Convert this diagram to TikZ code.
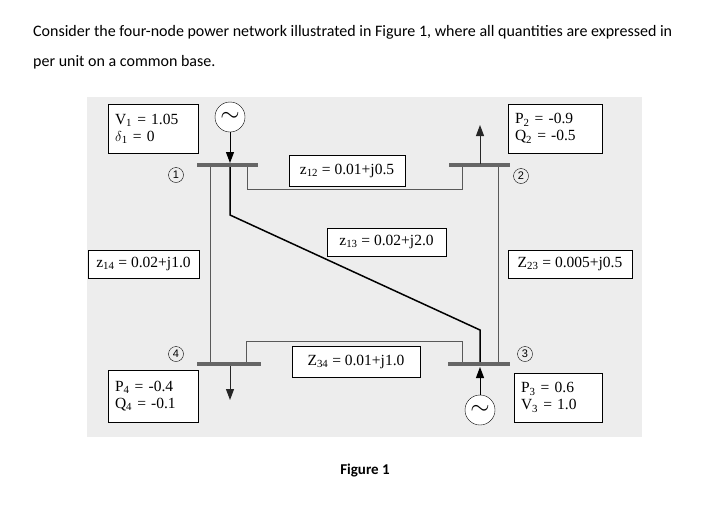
\documentclass[tikz,border=0pt]{standalone}
\usepackage{fontspec}
\setmainfont{Liberation Serif}
\newfontfamily\calib{Carlito}
\newfontfamily\arial{Liberation Sans}
\usetikzlibrary{arrows.meta}
\tikzset{
  lbl/.style={draw, fill=white, font=\fontsize{15.5}{17}\selectfont, inner sep=0pt, align=left},
  bar/.style={line width=3.5pt, draw=gray!80!black},
  wire/.style={draw=gray!70!black, line width=1pt},
  num/.style={circle, draw, minimum size=15pt, inner sep=0pt, font=\arial\fontsize{11}{11}\selectfont},
  gen/.style={circle, draw, fill=white, minimum size=30pt, inner sep=0pt, font=\fontsize{24}{24}\selectfont},
  flow/.style={-{Triangle[length=11pt,width=8pt]}, line width=1pt},
}
\newcommand{\sub}[1]{\textsubscript{#1}}
\begin{document}
\begin{tikzpicture}[x=1pt,y=-1pt]
  \useasboundingbox[fill=white] (0,0) rectangle (708,509);
  \node[anchor=west, inner sep=0pt, font=\calib\fontsize{16}{18}\selectfont] (txta) at (33,32) {Consider the four-node power network illustrated in Figure 1, where all quantities are expressed in};
  \node[anchor=west, inner sep=0pt, font=\calib\fontsize{16}{18}\selectfont] (txtb) at (33,62) {per unit on a common base.};
  \fill[gray!14] (87,97) rectangle (642,437);

  % bus bars
  \coordinate (b1l) at (197,165); \coordinate (b1r) at (258,165);
  \coordinate (b2l) at (449,165); \coordinate (b2r) at (510,165);
  \coordinate (b3l) at (448,364); \coordinate (b3r) at (510,364);
  \coordinate (b4l) at (197,364); \coordinate (b4r) at (261,364);

  % lines
  \draw[wire] (210,165) -- (210,364);
  \draw[wire] (247,165) -- (247,189) -- (462,189) -- (462,165);
  \draw[wire] (498,165) -- (498,364);
  \draw[wire] (246,364) -- (246,341) -- (462,341) -- (462,364);
  \draw[line width=1.5pt] (230,165) -- (230,215) -- (480,330) -- (480,364);

  \draw[bar] (b1l) -- (b1r);
  \draw[bar] (b2l) -- (b2r);
  \draw[bar] (b3l) -- (b3r);
  \draw[bar] (b4l) -- (b4r);

  % generators and loads
  \node[gen] (g1) at (230,117) {$\sim$};
  \node[gen] (g3) at (480,410) {$\sim$};
  \coordinate (t1) at (230,163);
  \coordinate (t3) at (480,367);
  \draw[flow] (g1) -- (t1);
  \draw[flow] (g3) -- (t3);
  \coordinate (l2a) at (480,164); \coordinate (l2b) at (480,125);
  \coordinate (l4a) at (230,366); \coordinate (l4b) at (230,400);
  \draw[flow, draw=gray!30!black] (l2a) -- (l2b);
  \draw[flow, draw=gray!30!black] (l4a) -- (l4b);

  % bus numbers
  \node[num] (n1) at (176,175) {1};
  \node[num] (n2) at (521,176) {2};
  \node[num] (n3) at (525,354) {3};
  \node[num] (n4) at (176,354) {4};

  % data boxes
  \node[lbl, minimum width=90pt, minimum height=49pt, text width=76pt] (d1) at (153,128.5) {V\sub{1} = 1.05\\$\delta$\sub{1} = 0};
  \node[lbl, minimum width=94pt, minimum height=49pt, text width=80pt] (d2) at (555,128.5) {P\sub{2} = -0.9\\Q\sub{2} = -0.5};
  \node[lbl, minimum width=90pt, minimum height=52pt, text width=76pt] (d4) at (153,396) {P\sub{4} = -0.4\\Q\sub{4} = -0.1};
  \node[lbl, minimum width=88pt, minimum height=49pt, text width=74pt] (d3) at (558,397.5) {P\sub{3} = 0.6\\V\sub{3} = 1.0};

  \node[lbl, minimum width=116pt, minimum height=31pt] (z12) at (347,170.5) {z\sub{12} = 0.01+j0.5};
  \node[lbl, minimum width=119pt, minimum height=28pt] (z13) at (386.5,242) {z\sub{13} = 0.02+j2.0};
  \node[lbl, minimum width=111pt, minimum height=28pt] (z14) at (143.5,264) {z\sub{14} = 0.02+j1.0};
  \node[lbl, minimum width=124pt, minimum height=28pt] (z23) at (570,264) {Z\sub{23} = 0.005+j0.5};
  \node[lbl, minimum width=128pt, minimum height=31pt] (z34) at (356,361.5) {Z\sub{34} = 0.01+j1.0};

  \node[font=\calib\bfseries\fontsize{15}{17}\selectfont] (cap) at (365,470) {Figure 1};
\end{tikzpicture}
\end{document}
